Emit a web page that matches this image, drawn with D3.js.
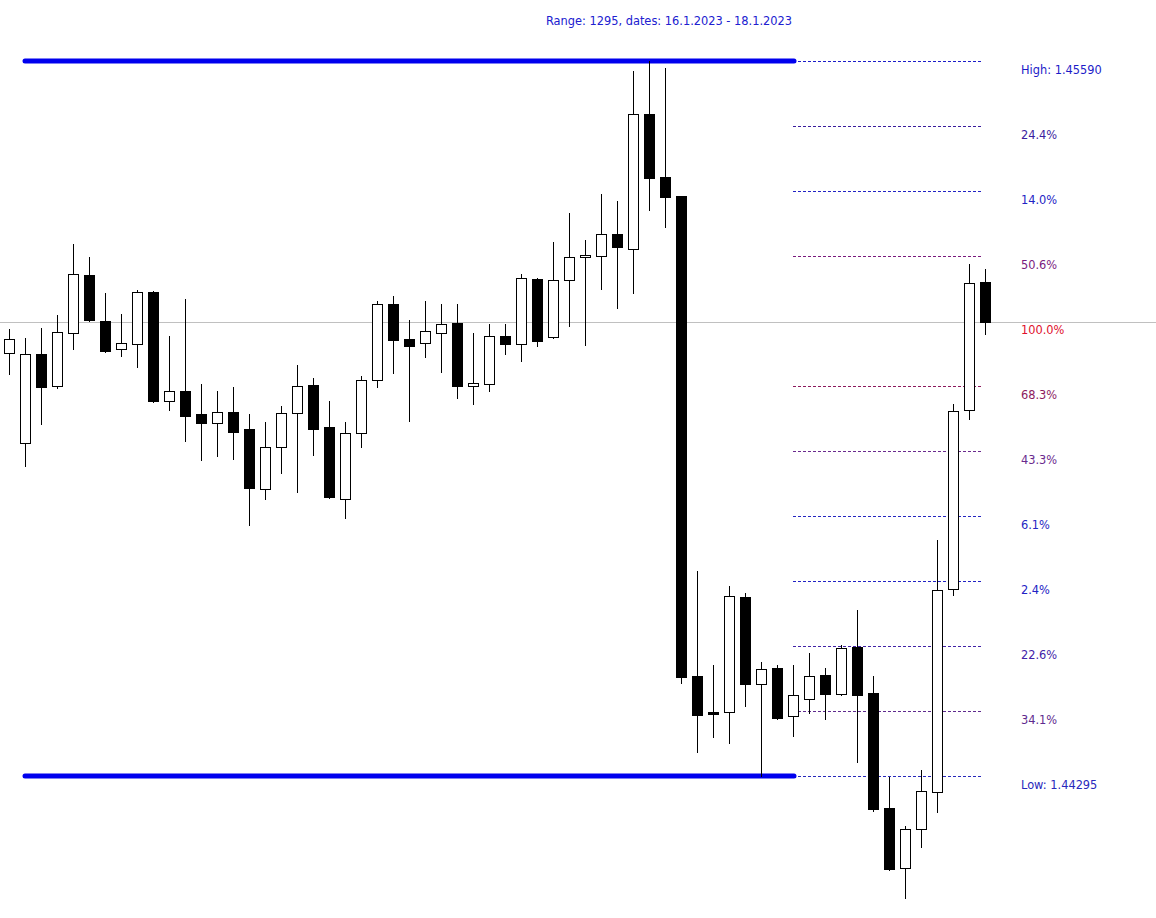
<!DOCTYPE html>
<html>
<head>
<meta charset="utf-8">
<script src="https://cdn.jsdelivr.net/npm/d3@7"></script>
<style>
  html, body { margin: 0; padding: 0; background: #ffffff; }
  svg { display: block; }
  text { font-family: "DejaVu Sans", Tahoma, sans-serif; font-size: 11.4px; }
</style>
</head>
<body>
<svg id="chart" width="1156" height="918"></svg>
<script>
// ---------------- DATA ----------------
const title = "Range: 1295, dates: 16.1.2023 - 18.1.2023";

const opens = [
  1.45061, 1.44898, 1.45059, 1.45001, 1.45097, 1.45202, 1.45119, 1.45068, 1.45077, 1.45172,
  1.44974, 1.44992, 1.44951, 1.44934, 1.44954, 1.44923, 1.44815, 1.44891, 1.44952, 1.45003,
  1.44927, 1.44797, 1.44916, 1.45012, 1.45150, 1.45086, 1.45079, 1.45097, 1.45115, 1.45001,
  1.45005, 1.45092, 1.45077, 1.45195, 1.45090, 1.45193, 1.45235, 1.45237, 1.45277, 1.45249,
  1.45494, 1.45380, 1.45345, 1.44476, 1.44411, 1.44411, 1.44619, 1.44462, 1.44491, 1.44404,
  1.44434, 1.44478, 1.44444, 1.44529, 1.44445, 1.44237, 1.44128, 1.44199, 1.44266, 1.44634,
  1.44958, 1.45190
];
const highs = [
  1.45105, 1.45088, 1.45106, 1.45130, 1.45259, 1.45235, 1.45170, 1.45132, 1.45175, 1.45173,
  1.45092, 1.45159, 1.45005, 1.44992, 1.45000, 1.44951, 1.44936, 1.44965, 1.45039, 1.45016,
  1.44974, 1.44936, 1.45019, 1.45155, 1.45164, 1.45121, 1.45155, 1.45150, 1.45150, 1.45097,
  1.45114, 1.45114, 1.45204, 1.45197, 1.45262, 1.45315, 1.45266, 1.45349, 1.45336, 1.45572,
  1.45590, 1.45577, 1.45346, 1.44666, 1.44496, 1.44639, 1.44626, 1.44501, 1.44496, 1.44496,
  1.44518, 1.44491, 1.44532, 1.44596, 1.44476, 1.44294, 1.44204, 1.44306, 1.44722, 1.44969,
  1.45222, 1.45213
];
const lows = [
  1.45023, 1.44856, 1.44933, 1.44998, 1.45068, 1.45119, 1.45063, 1.45056, 1.45036, 1.44972,
  1.44958, 1.44902, 1.44867, 1.44875, 1.44869, 1.44750, 1.44797, 1.44844, 1.44809, 1.44876,
  1.44798, 1.44762, 1.44891, 1.45000, 1.45025, 1.44938, 1.45054, 1.45027, 1.44980, 1.44969,
  1.44992, 1.45059, 1.45047, 1.45074, 1.45088, 1.45110, 1.45076, 1.45177, 1.45143, 1.45170,
  1.45320, 1.45289, 1.44463, 1.44338, 1.44366, 1.44355, 1.44422, 1.44295, 1.44398, 1.44367,
  1.44409, 1.44398, 1.44442, 1.44320, 1.44232, 1.44125, 1.44074, 1.44166, 1.44230, 1.44623,
  1.44942, 1.45096
];
const closes = [
  1.45086, 1.45059, 1.45000, 1.45099, 1.45204, 1.45121, 1.45065, 1.45079, 1.45172, 1.44974,
  1.44992, 1.44947, 1.44934, 1.44954, 1.44918, 1.44817, 1.44891, 1.44952, 1.45001, 1.44923,
  1.44800, 1.44916, 1.45012, 1.45150, 1.45085, 1.45074, 1.45101, 1.45114, 1.45001, 1.45007,
  1.45092, 1.45077, 1.45197, 1.45083, 1.45193, 1.45235, 1.45239, 1.45277, 1.45253, 1.45494,
  1.45378, 1.45344, 1.44474, 1.44405, 1.44407, 1.44621, 1.44462, 1.44489, 1.44400, 1.44442,
  1.44476, 1.44444, 1.44527, 1.44442, 1.44235, 1.44127, 1.44199, 1.44268, 1.44632, 1.44956,
  1.45188, 1.45117
];
// doji-like candle drawn as bearish
const bearOverride = [44];

const rangeHigh = 1.45590;
const rangeLow = 1.44295;
const levelPrices = [1.45590, 1.45472, 1.45355, 1.45237, 1.45119, 1.45001, 1.44884, 1.44766, 1.44648, 1.44531, 1.44413, 1.44295];
const levelLabels = ["High: 1.45590", "24.4%", "14.0%", "50.6%", "100.0%", "68.3%", "43.3%", "6.1%", "2.4%", "22.6%", "34.1%", "Low: 1.44295"];
const levelColors = ["#1c1cc8", "#3a1c9e", "#2222c4", "#7a1a7e", "#e0102c", "#8c1a5e", "#6a2a8e", "#2626c2", "#2222c4", "#4222a8", "#5e2a8e", "#2828bc"];

// ---------------- DRAW ----------------
const svg = d3.select("#chart");
const W = 1156, H = 918;

const n = opens.length;
const x = d3.scaleLinear().domain([0, n - 1]).range([9, 985]);
const y = d3.scaleLinear().domain([rangeLow, rangeHigh]).range([776, 61]);
const py = v => Math.round(y(v)) + 0.5;

svg.append("rect").attr("width", W).attr("height", H).attr("fill", "#ffffff");

// title
svg.append("text")
  .attr("x", 669).attr("y", 25)
  .attr("text-anchor", "middle")
  .attr("fill", "#2020d0")
  .text(title);

// current price line (grey, full width)
const last = closes[n - 1];
svg.append("line")
  .attr("x1", 0).attr("x2", W)
  .attr("y1", py(last)).attr("y2", py(last))
  .attr("stroke", "#c0c0c0").attr("stroke-width", 1);

// dashed level lines
levelPrices.forEach((p, i) => {
  if (i === 4) return; // hidden under the price line
  svg.append("line")
    .attr("x1", 793).attr("x2", 983)
    .attr("y1", py(p)).attr("y2", py(p))
    .attr("stroke", levelColors[i])
    .attr("stroke-width", 1)
    .attr("stroke-dasharray", "3,2");
});

// thick range lines
[rangeHigh, rangeLow].forEach(p => {
  svg.append("line")
    .attr("x1", 25).attr("x2", 794)
    .attr("y1", y(p)).attr("y2", y(p))
    .attr("stroke", "#0000ee")
    .attr("stroke-width", 5)
    .attr("stroke-linecap", "round");
});

// candles
const g = svg.append("g");
for (let i = 0; i < n; i++) {
  const cx = Math.round(x(i)) + 0.5;
  const o = opens[i], c = closes[i];
  const bear = c < o || bearOverride.includes(i);
  g.append("line")
    .attr("x1", cx).attr("x2", cx)
    .attr("y1", Math.round(y(highs[i]))).attr("y2", Math.round(y(lows[i])) + 1)
    .attr("stroke", "#000").attr("stroke-width", 1);
  const top = py(Math.max(o, c));
  const bot = py(Math.min(o, c));
  g.append("rect")
    .attr("x", cx - 5).attr("width", 10)
    .attr("y", top).attr("height", Math.max(bot - top, 2))
    .attr("fill", bear ? "#000" : "#fff")
    .attr("stroke", "#000").attr("stroke-width", 1);
}

// level labels
levelPrices.forEach((p, i) => {
  svg.append("text")
    .attr("x", 1021).attr("y", y(p) + 13)
    .attr("fill", levelColors[i])
    .text(levelLabels[i]);
});
</script>
</body>
</html>
